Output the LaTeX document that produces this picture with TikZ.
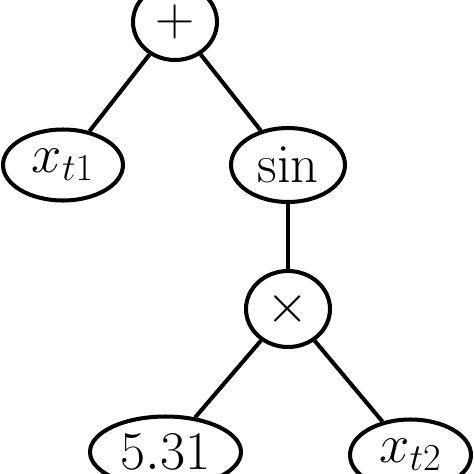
\RequirePackage{fix-cm}
\documentclass[tikz,border=0pt]{standalone}
\usepackage{tikz}
\usepackage{amsmath}
\usetikzlibrary{shapes.geometric}
\def\lw{2.3pt}

\begin{document}
\begin{tikzpicture}[x=0.02cm, y=-0.02cm,
    opnode/.style={draw, ellipse, line width=\lw, inner sep=0pt,
      minimum width=1.68cm, minimum height=1.52cm, font=\fontsize{31}{37}\selectfont},
    leafnode/.style={opnode, minimum width=2.4cm, minimum height=1.42cm},
    edge/.style={line width=\lw}]
  \useasboundingbox (0,0) rectangle (474,474);

  \node[opnode] (plus) at (175,22) {$+$};
  \node[leafnode] (xone) at (63,165) {$x_{t1}$};
  \node[leafnode, minimum width=2.28cm, minimum height=1.48cm] (sin) at (288,165) {$\sin$};
  \node[opnode] (times) at (288,309) {$\times$};
  \node[leafnode, minimum width=3.02cm] (const) at (165.5,452) {$5.31$};
  \node[leafnode, minimum width=2.42cm] (xtwo) at (410.5,455) {$x_{t2}$};

  \draw[edge] (plus) -- (xone);
  \draw[edge] (plus) -- (sin);
  \draw[edge] (sin) -- (times);
  \draw[edge] (times) -- (const);
  \draw[edge] (times) -- (xtwo);
\end{tikzpicture}
\end{document}
